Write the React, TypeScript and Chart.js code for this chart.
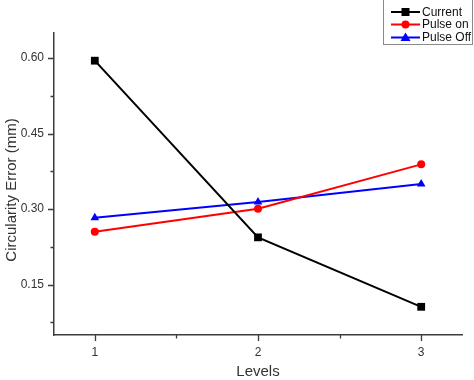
import React, { useEffect, useRef } from "react";
import { Chart, registerables } from "chart.js";

Chart.register(...registerables);

const levels = [1, 2, 3];
const currentValues = [0.595, 0.244, 0.106];
const pulseOnValues = [0.255, 0.301, 0.389];
const pulseOffValues = [0.283, 0.314, 0.35];
const yTickValues = [0.15, 0.3, 0.45, 0.6];
const yMinorValues = [0.075, 0.225, 0.375, 0.525];
const xTickValues = [1, 2, 3];
const xMinorValues = [1.5, 2.5];
const seriesNames = ["Current", "Pulse on", "Pulse Off"];
const seriesColors = ["#000000", "#ff0000", "#0000ff"];
const seriesMarkers = ["rect", "circle", "triangle"];

const FONT = "'Liberation Sans', Arial, sans-serif";
const AXIS = "#3c3c3c";

function drawMarker(ctx: CanvasRenderingContext2D, kind: string, x: number, y: number, color: string) {
  ctx.save();
  ctx.fillStyle = color;
  ctx.beginPath();
  if (kind === "rect") {
    ctx.rect(x - 4, y - 4, 8, 8);
  } else if (kind === "circle") {
    ctx.arc(x, y, 4, 0, Math.PI * 2);
  } else {
    ctx.moveTo(x, y - 5);
    ctx.lineTo(x + 5, y + 3.5);
    ctx.lineTo(x - 5, y + 3.5);
    ctx.closePath();
  }
  ctx.fill();
  ctx.restore();
}

const customPlugin = {
  id: "custom",
  afterDraw(chart: any) {
    const ctx: CanvasRenderingContext2D = chart.ctx;
    const xs = chart.scales.x;
    const ys = chart.scales.y;
    const area = chart.chartArea;
    ctx.save();
    // ticks
    ctx.strokeStyle = AXIS;
    ctx.lineWidth = 1.3;
    ctx.beginPath();
    for (const v of yTickValues) {
      const p = Math.round(ys.getPixelForValue(v)) + 0.5;
      ctx.moveTo(area.left - 6, p);
      ctx.lineTo(area.left, p);
    }
    for (const v of yMinorValues) {
      const p = Math.round(ys.getPixelForValue(v)) + 0.5;
      ctx.moveTo(area.left - 3.5, p);
      ctx.lineTo(area.left, p);
    }
    for (const v of xTickValues) {
      const p = Math.round(xs.getPixelForValue(v)) + 0.5;
      ctx.moveTo(p, area.bottom);
      ctx.lineTo(p, area.bottom + 6);
    }
    for (const v of xMinorValues) {
      const p = Math.round(xs.getPixelForValue(v)) + 0.5;
      ctx.moveTo(p, area.bottom);
      ctx.lineTo(p, area.bottom + 3.5);
    }
    ctx.stroke();

    // axis titles
    ctx.fillStyle = "#333333";
    ctx.font = `15px ${FONT}`;
    ctx.textAlign = "center";
    ctx.textBaseline = "middle";
    ctx.fillText("Levels", (area.left + area.right) / 2, 372);
    ctx.save();
    ctx.translate(12, 190);
    ctx.rotate(-Math.PI / 2);
    ctx.fillText("Circularity Error (mm)", 0, 0);
    ctx.restore();

    // legend
    ctx.fillStyle = "#ffffff";
    ctx.fillRect(383, -1, 89, 45);
    ctx.strokeStyle = "#8a8a8a";
    ctx.lineWidth = 1;
    ctx.strokeRect(383.5, -0.5, 89, 45);
    ctx.font = `12px ${FONT}`;
    ctx.textAlign = "left";
    ctx.textBaseline = "middle";
    const rows = [12, 24.5, 37.5];
    seriesNames.forEach((name, i) => {
      const y = rows[i];
      ctx.strokeStyle = seriesColors[i];
      ctx.lineWidth = 2;
      ctx.beginPath();
      ctx.moveTo(391, y);
      ctx.lineTo(420, y);
      ctx.stroke();
      drawMarker(ctx, seriesMarkers[i], 405.5, y, seriesColors[i]);
      ctx.fillStyle = "#111111";
      ctx.fillText(name, 422, y + 0.5);
    });
    ctx.restore();
  },
};

export default function App() {
  const ref = useRef<HTMLCanvasElement | null>(null);
  useEffect(() => {
    if (!ref.current) return;
    const mk = (vals: number[]) => levels.map((l, i) => ({ x: l, y: vals[i] }));
    const all = [currentValues, pulseOnValues, pulseOffValues];
    const chart = new Chart(ref.current, {
      type: "line",
      data: {
        datasets: all.map((vals, i) => ({
          label: seriesNames[i],
          data: mk(vals),
          borderColor: seriesColors[i],
          backgroundColor: seriesColors[i],
          borderWidth: 2,
          pointStyle: seriesMarkers[i] as any,
          pointRadius: seriesMarkers[i] === "rect" ? 5.5 : seriesMarkers[i] === "circle" ? 4 : 5,
          pointBorderWidth: 0,
          tension: 0,
          clip: false as any,
        })),
      },
      options: {
        responsive: false,
        animation: false,
        layout: { padding: { top: 33, right: 12, left: 0, bottom: 0 } },
        plugins: { legend: { display: false }, tooltip: { enabled: false } },
        scales: {
          x: {
            type: "linear",
            min: 0.75,
            max: 3.25,
            afterBuildTicks: (s: any) => {
              s.ticks = xTickValues.map((v) => ({ value: v }));
            },
            afterFit: (s: any) => {
              s.height = 45;
            },
            grid: { display: false, drawTicks: false },
            border: { display: true, color: AXIS, width: 1.5 },
            ticks: {
              padding: 10,
              color: "#333333",
              font: { family: FONT, size: 12 },
              callback: (v: any) => String(v),
            },
          },
          y: {
            type: "linear",
            min: 0.05,
            max: 0.65,
            afterBuildTicks: (s: any) => {
              s.ticks = yTickValues.map((v) => ({ value: v }));
            },
            afterFit: (s: any) => {
              s.width = 54;
            },
            grid: { display: false, drawTicks: false },
            border: { display: true, color: AXIS, width: 1.5 },
            ticks: {
              padding: 10,
              color: "#333333",
              font: { family: FONT, size: 12 },
              callback: (v: any) => Number(v).toFixed(2),
            },
          },
        },
      },
      plugins: [customPlugin],
    });
    return () => chart.destroy();
  }, []);
  return (
    <div style={{ position: "fixed", left: 0, top: 0, width: 474, height: 380, background: "#fff" }}>
      <canvas ref={ref} width={474} height={380} style={{ display: "block" }} />
    </div>
  );
}
